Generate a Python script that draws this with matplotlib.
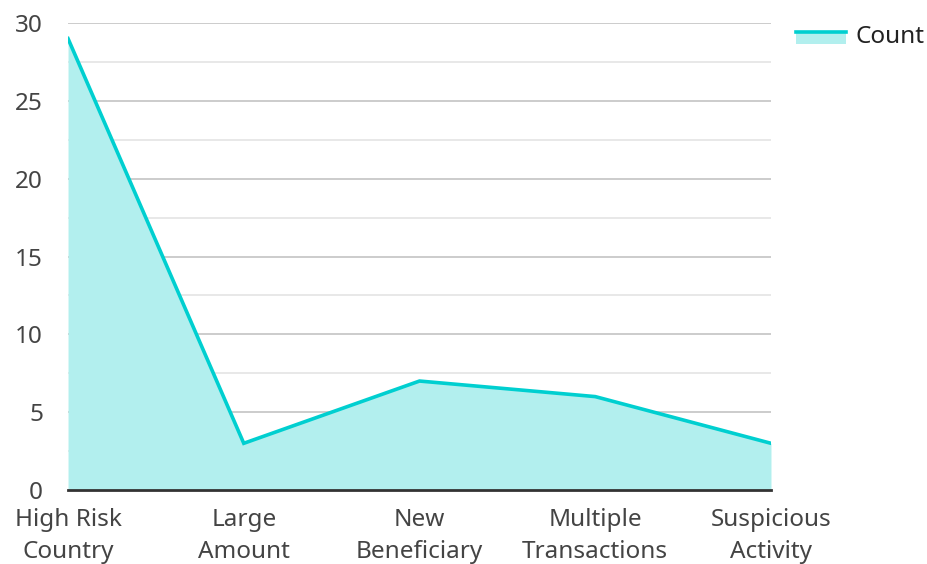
import matplotlib
matplotlib.use("Agg")
import matplotlib.pyplot as plt
from matplotlib.patches import Rectangle
from matplotlib.lines import Line2D
from matplotlib.legend_handler import HandlerBase

categories = ["High Risk\nCountry", "Large\nAmount", "New\nBeneficiary",
              "Multiple\nTransactions", "Suspicious\nActivity"]
counts = [29, 3, 7, 6, 3]
y_ticks = [0, 5, 10, 15, 20, 25, 30]

line_color = "#00cfd0"
fill_color = "#b2efee"

plt.rcParams['font.family'] = ['Noto Sans', 'DejaVu Sans']


class AreaHandler(HandlerBase):
    # legend key: filled box with the line on its top edge
    def create_artists(self, legend, orig_handle, xdescent, ydescent,
                       width, height, fontsize, trans):
        top = -ydescent + height * 0.62
        rect = Rectangle((-xdescent, -ydescent - height * 0.1), width,
                         top + ydescent + height * 0.1,
                         facecolor=fill_color, edgecolor='none', transform=trans)
        ln = Line2D([-xdescent, -xdescent + width], [top, top],
                    color=line_color, lw=2.6, transform=trans)
        return [rect, ln]


fig = plt.figure(figsize=(9.28, 5.64), dpi=100)
ax = fig.add_axes([0.0733, 0.1312, 0.7575, 0.828])

x = list(range(len(categories)))
ax.fill_between(x, counts, 0, color=fill_color, lw=0, zorder=2)
ax.plot(x, counts, color=line_color, lw=2.6, zorder=3, solid_joinstyle='miter')

ax.set_xlim(0, len(categories) - 1)
ax.set_ylim(0, 30)
ax.set_yticks(y_ticks)
ax.set_yticks([2.5, 7.5, 12.5, 17.5, 22.5, 27.5], minor=True)
ax.grid(True, which='major', axis='y', color='#c8c8c8', lw=1.3, zorder=1)
ax.grid(True, which='minor', axis='y', color='#e6e6e6', lw=1.3, zorder=1)
ax.grid(False, axis='x')

ax.set_xticks(x)
ax.set_xticklabels(categories, linespacing=1.43)
ax.tick_params(axis='both', which='both', length=0, labelsize=17.5, labelcolor='#444444')
ax.tick_params(axis='y', pad=18)
ax.tick_params(axis='x', pad=13)
for lbl in ax.get_yticklabels():
    lbl.set_horizontalalignment('right')

for s in ['top', 'right', 'left']:
    ax.spines[s].set_visible(False)
ax.spines['bottom'].set_color('#333333')
ax.spines['bottom'].set_linewidth(2)
ax.spines['bottom'].set_zorder(4)

handle = Rectangle((0, 0), 1, 1)
fig.legend([handle], ['Count'], handler_map={Rectangle: AreaHandler()},
           loc='upper left', bbox_to_anchor=(0.834, 0.995), frameon=False,
           fontsize=17.5, handlelength=2.06, handletextpad=0.4,
           labelcolor='#222222')

fig.savefig("out.png", dpi=100)
